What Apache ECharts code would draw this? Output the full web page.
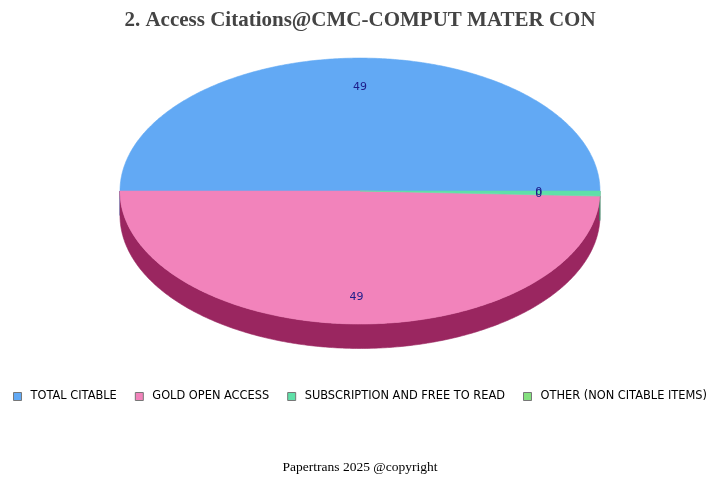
<!DOCTYPE html>
<html><head><meta charset="utf-8">
<script src="https://cdn.jsdelivr.net/npm/echarts@6/dist/echarts.min.js"></script>
<style>html,body{margin:0;padding:0;background:#fff}#c{width:720px;height:480px}</style>
</head><body><div id="c"></div>
<script>
const titleText = '2. Access Citations@CMC-COMPUT MATER CON';
const footerText = 'Papertrans 2025 @copyright';
const categories = ['TOTAL CITABLE', 'GOLD OPEN ACCESS', 'SUBSCRIPTION AND FREE TO READ', 'OTHER (NON CITABLE ITEMS)'];
const values = [49.6, 49.0, 0.6, 0];
const colors = ['#62a9f4', '#f283bb', '#5fe0a8', '#84e07f'];
const sideColors = ['#2b6cb5', '#9a2660', '#2a9a68', '#3f9c3b'];

const chart = echarts.init(document.getElementById('c'));
const total = values.reduce((a, b) => a + b, 0);
const starts = [];
let acc = 0;
values.forEach(v => { starts.push(acc); acc += v; });

function geom(api) {
  const w = api.getWidth(), h = api.getHeight();
  return { cx: w * 0.5, cy: h * 0.398, rx: w / 3, ry: h * 0.277, depth: h * 0.051 };
}

function makeRender(i) {
  return function (params, api) {
    const g = geom(api);
    const v = api.value(0);
    const a0 = starts[i] / total * 2 * Math.PI;
    const a1 = (starts[i] + v) / total * 2 * Math.PI;
    const pt = (a, dy) => [g.cx + g.rx * Math.cos(a), g.cy - g.ry * Math.sin(a) + (dy || 0)];
    const children = [];
    const s0 = Math.max(a0, Math.PI), s1 = Math.min(a1, 2 * Math.PI);
    if (s1 > s0) {
      const n = Math.max(2, Math.ceil((s1 - s0) / 0.01));
      const top = [], bot = [];
      for (let k = 0; k <= n; k++) {
        const a = s0 + (s1 - s0) * k / n;
        top.push(pt(a));
        bot.push(pt(a, g.depth));
      }
      children.push({ type: 'polygon', z2: 1, shape: { points: top.concat(bot.reverse()) },
        style: { fill: sideColors[i], stroke: sideColors[i], lineWidth: 0.6 } });
    }
    if (a1 > a0) {
      const n = Math.max(2, Math.ceil((a1 - a0) / 0.01));
      const pts = [[g.cx, g.cy]];
      for (let k = 0; k <= n; k++) pts.push(pt(a0 + (a1 - a0) * k / n));
      children.push({ type: 'polygon', z2: 10, shape: { points: pts },
        style: { fill: colors[i], stroke: colors[i], lineWidth: 0.6 } });
    }
    const am = (a0 + a1) / 2;
    children.push({ type: 'text', z2: 20,
      x: g.cx + 0.745 * g.rx * Math.cos(am), y: g.cy - 0.79 * g.ry * Math.sin(am) + 1,
      style: { text: String(Math.floor(v)), fill: '#1c1c8a', font: '11px "DejaVu Sans"',
        align: 'center', verticalAlign: 'middle' } });
    return { type: 'group', children };
  };
}

const series = categories.map((name, i) => ({
  type: 'custom',
  name: name,
  coordinateSystem: 'none',
  itemStyle: { color: colors[i] },
  data: [[values[i]]],
  renderItem: makeRender(i)
}));

chart.setOption({
  animation: false,
  title: [
    { text: titleText, left: 'center', top: 5,
      textStyle: { fontFamily: '"Liberation Serif", "Times New Roman", serif', fontSize: 21, fontWeight: 'bold', color: '#444' } },
    { text: footerText, left: 'center', top: 455,
      textStyle: { fontFamily: '"Liberation Serif", "Times New Roman", serif', fontSize: 13.5, fontWeight: 'normal', color: '#000' } }
  ],
  legend: {
    data: categories,
    left: 'center', top: 386,
    icon: 'rect', itemWidth: 8, itemHeight: 8, itemGap: 18,
    itemStyle: { borderColor: '#777', borderWidth: 1 },
    textStyle: { fontFamily: '"DejaVu Sans", sans-serif', fontSize: 11.4, color: '#000', padding: [0, 0, 0, 4] }
  },
  series: series
});
</script>
</body></html>
